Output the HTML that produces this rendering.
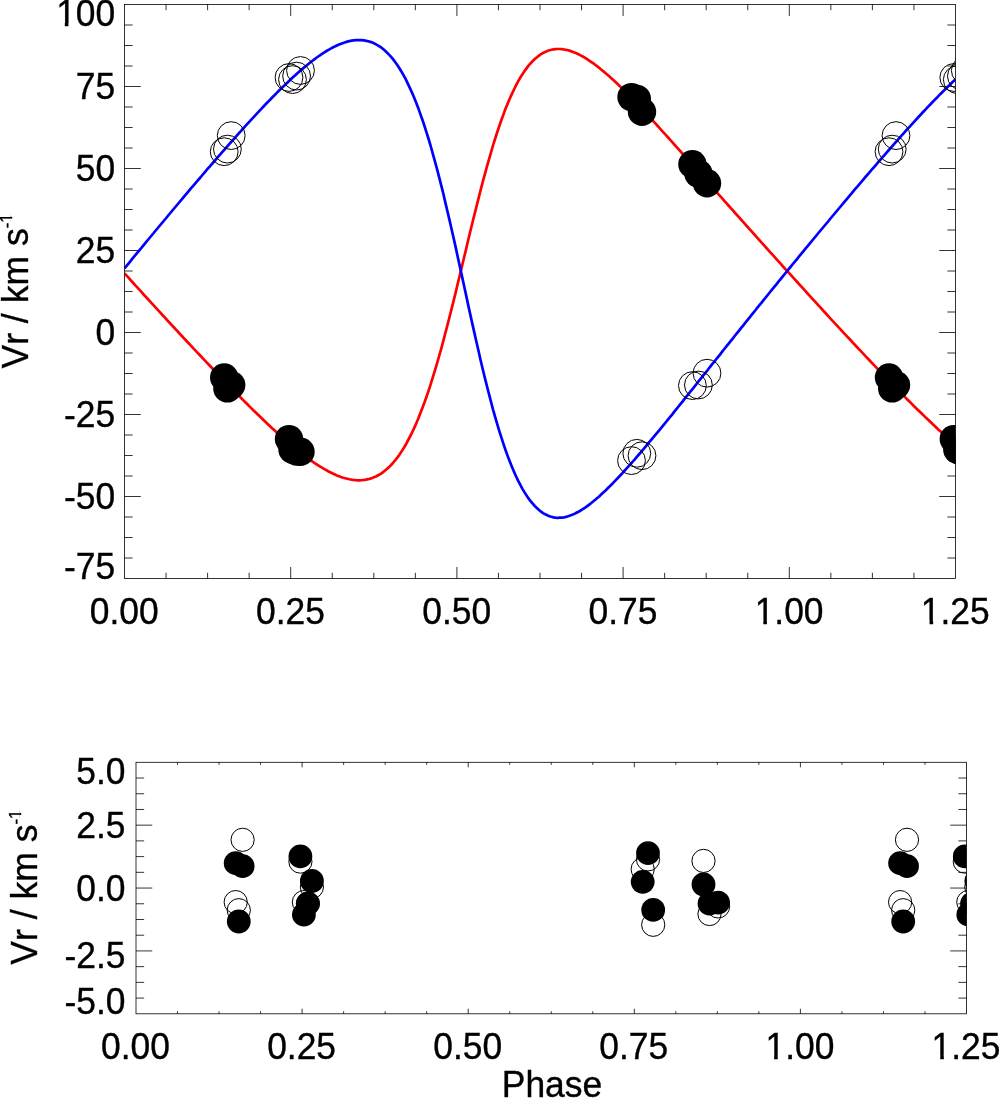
<!DOCTYPE html>
<html><head><meta charset="utf-8"><title>Vr vs Phase</title>
<style>html,body{margin:0;padding:0;background:#fff}svg{display:block}text{font-family:"Liberation Sans",Arial,Helvetica,sans-serif;font-size:35.4px;font-kerning:none;fill:#000;stroke:#000;stroke-width:0.35px}</style></head><body>
<svg width="1000" height="1098" viewBox="0 0 1000 1098">
<rect width="1000" height="1098" fill="#fff"/>
<defs><clipPath id="cu"><rect x="124.5" y="4.5" width="831.0" height="574.0"/></clipPath><clipPath id="cl"><rect x="136.0" y="762.3" width="830.5" height="251.5"/></clipPath></defs>
<path d="M166.05,578.5v-5.74M166.05,4.5v5.74M207.60,578.5v-5.74M207.60,4.5v5.74M249.15,578.5v-5.74M249.15,4.5v5.74M290.70,578.5v-11.48M290.70,4.5v11.48M332.25,578.5v-5.74M332.25,4.5v5.74M373.80,578.5v-5.74M373.80,4.5v5.74M415.35,578.5v-5.74M415.35,4.5v5.74M456.90,578.5v-11.48M456.90,4.5v11.48M498.45,578.5v-5.74M498.45,4.5v5.74M540.00,578.5v-5.74M540.00,4.5v5.74M581.55,578.5v-5.74M581.55,4.5v5.74M623.10,578.5v-11.48M623.10,4.5v11.48M664.65,578.5v-5.74M664.65,4.5v5.74M706.20,578.5v-5.74M706.20,4.5v5.74M747.75,578.5v-5.74M747.75,4.5v5.74M789.30,578.5v-11.48M789.30,4.5v11.48M830.85,578.5v-5.74M830.85,4.5v5.74M872.40,578.5v-5.74M872.40,4.5v5.74M913.95,578.5v-5.74M913.95,4.5v5.74M124.5,25.00h8.1438M955.5,25.00h-8.1438M124.5,45.50h8.1438M955.5,45.50h-8.1438M124.5,66.00h8.1438M955.5,66.00h-8.1438M124.5,86.50h16.2876M955.5,86.50h-16.2876M124.5,107.00h8.1438M955.5,107.00h-8.1438M124.5,127.50h8.1438M955.5,127.50h-8.1438M124.5,148.00h8.1438M955.5,148.00h-8.1438M124.5,168.50h16.2876M955.5,168.50h-16.2876M124.5,189.00h8.1438M955.5,189.00h-8.1438M124.5,209.50h8.1438M955.5,209.50h-8.1438M124.5,230.00h8.1438M955.5,230.00h-8.1438M124.5,250.50h16.2876M955.5,250.50h-16.2876M124.5,271.00h8.1438M955.5,271.00h-8.1438M124.5,291.50h8.1438M955.5,291.50h-8.1438M124.5,312.00h8.1438M955.5,312.00h-8.1438M124.5,332.50h16.2876M955.5,332.50h-16.2876M124.5,353.00h8.1438M955.5,353.00h-8.1438M124.5,373.50h8.1438M955.5,373.50h-8.1438M124.5,394.00h8.1438M955.5,394.00h-8.1438M124.5,414.50h16.2876M955.5,414.50h-16.2876M124.5,435.00h8.1438M955.5,435.00h-8.1438M124.5,455.50h8.1438M955.5,455.50h-8.1438M124.5,476.00h8.1438M955.5,476.00h-8.1438M124.5,496.50h16.2876M955.5,496.50h-16.2876M124.5,517.00h8.1438M955.5,517.00h-8.1438M124.5,537.50h8.1438M955.5,537.50h-8.1438M124.5,558.00h8.1438M955.5,558.00h-8.1438" stroke="#000" stroke-width="0.8" fill="none"/>
<g clip-path="url(#cu)">
<path d="M124.5,273.3 L126.6,275.6 L128.7,277.9 L130.7,280.2 L132.8,282.5 L134.9,284.8 L137.0,287.1 L139.1,289.4 L141.2,291.7 L143.2,294.0 L145.3,296.3 L147.4,298.5 L149.5,300.8 L151.6,303.1 L153.7,305.4 L155.7,307.7 L157.8,309.9 L159.9,312.2 L162.0,314.5 L164.1,316.7 L166.2,319.0 L168.2,321.3 L170.3,323.5 L172.4,325.8 L174.5,328.0 L176.6,330.3 L178.7,332.5 L180.7,334.8 L182.8,337.0 L184.9,339.3 L187.0,341.5 L189.1,343.7 L191.1,345.9 L193.2,348.2 L195.3,350.4 L197.4,352.6 L199.5,354.8 L201.6,357.0 L203.6,359.2 L205.7,361.4 L207.8,363.6 L209.9,365.8 L212.0,368.0 L214.1,370.2 L216.1,372.4 L218.2,374.5 L220.3,376.7 L222.4,378.9 L224.5,381.0 L226.6,383.2 L228.6,385.3 L230.7,387.5 L232.8,389.6 L234.9,391.7 L237.0,393.8 L239.0,395.9 L241.1,398.0 L243.2,400.1 L245.3,402.2 L247.4,404.3 L249.5,406.4 L251.5,408.4 L253.6,410.5 L255.7,412.5 L257.8,414.5 L259.9,416.5 L262.0,418.5 L264.0,420.5 L266.1,422.5 L268.2,424.5 L270.3,426.4 L272.4,428.4 L274.5,430.3 L276.5,432.2 L278.6,434.1 L280.7,435.9 L282.8,437.8 L284.9,439.6 L287.0,441.4 L289.0,443.2 L291.1,445.0 L293.2,446.7 L295.3,448.4 L297.4,450.1 L299.4,451.8 L301.5,453.4 L303.6,455.0 L305.7,456.6 L307.8,458.2 L309.9,459.7 L311.9,461.1 L314.0,462.6 L316.1,464.0 L318.2,465.3 L320.3,466.7 L322.4,467.9 L324.4,469.2 L326.5,470.3 L328.6,471.5 L330.7,472.5 L332.8,473.5 L334.9,474.5 L336.9,475.4 L339.0,476.2 L341.1,477.0 L343.2,477.7 L345.3,478.3 L347.3,478.8 L349.4,479.3 L351.5,479.7 L353.6,480.0 L355.7,480.2 L357.8,480.3 L359.8,480.3 L361.9,480.2 L364.0,480.0 L366.1,479.6 L368.2,479.2 L370.3,478.6 L372.3,477.9 L374.4,477.1 L376.5,476.2 L378.6,475.0 L380.7,473.8 L382.8,472.4 L384.8,470.8 L386.9,469.0 L389.0,467.1 L391.1,465.0 L393.2,462.7 L395.3,460.2 L397.3,457.6 L399.4,454.7 L401.5,451.6 L403.6,448.3 L405.7,444.8 L407.7,441.0 L409.8,437.0 L411.9,432.8 L414.0,428.4 L416.1,423.7 L418.2,418.8 L420.2,413.6 L422.3,408.2 L424.4,402.6 L426.5,396.7 L428.6,390.6 L430.7,384.2 L432.7,377.6 L434.8,370.8 L436.9,363.8 L439.0,356.5 L441.1,349.1 L443.2,341.4 L445.2,333.6 L447.3,325.6 L449.4,317.5 L451.5,309.2 L453.6,300.8 L455.7,292.4 L457.7,283.8 L459.8,275.2 L461.9,266.5 L464.0,257.8 L466.1,249.1 L468.1,240.5 L470.2,231.8 L472.3,223.3 L474.4,214.8 L476.5,206.4 L478.6,198.2 L480.6,190.1 L482.7,182.1 L484.8,174.3 L486.9,166.7 L489.0,159.3 L491.1,152.2 L493.1,145.2 L495.2,138.5 L497.3,132.0 L499.4,125.8 L501.5,119.8 L503.6,114.1 L505.6,108.6 L507.7,103.4 L509.8,98.5 L511.9,93.9 L514.0,89.5 L516.0,85.3 L518.1,81.4 L520.2,77.8 L522.3,74.4 L524.4,71.3 L526.5,68.4 L528.5,65.7 L530.6,63.3 L532.7,61.0 L534.8,59.0 L536.9,57.2 L539.0,55.6 L541.0,54.2 L543.1,53.0 L545.2,51.9 L547.3,51.0 L549.4,50.3 L551.5,49.8 L553.5,49.4 L555.6,49.1 L557.7,49.0 L559.8,49.0 L561.9,49.2 L564.0,49.5 L566.0,49.8 L568.1,50.3 L570.2,50.9 L572.3,51.7 L574.4,52.5 L576.4,53.3 L578.5,54.3 L580.6,55.4 L582.7,56.5 L584.8,57.7 L586.9,59.0 L588.9,60.4 L591.0,61.8 L593.1,63.2 L595.2,64.8 L597.3,66.4 L599.4,68.0 L601.4,69.7 L603.5,71.4 L605.6,73.2 L607.7,75.0 L609.8,76.8 L611.9,78.7 L613.9,80.6 L616.0,82.6 L618.1,84.6 L620.2,86.6 L622.3,88.6 L624.3,90.7 L626.4,92.8 L628.5,94.9 L630.6,97.0 L632.7,99.1 L634.8,101.3 L636.8,103.5 L638.9,105.7 L641.0,107.9 L643.1,110.1 L645.2,112.3 L647.3,114.6 L649.3,116.8 L651.4,119.1 L653.5,121.4 L655.6,123.7 L657.7,126.0 L659.8,128.3 L661.8,130.6 L663.9,132.9 L666.0,135.2 L668.1,137.5 L670.2,139.8 L672.3,142.2 L674.3,144.5 L676.4,146.8 L678.5,149.2 L680.6,151.5 L682.7,153.8 L684.7,156.2 L686.8,158.5 L688.9,160.9 L691.0,163.2 L693.1,165.6 L695.2,167.9 L697.2,170.3 L699.3,172.6 L701.4,175.0 L703.5,177.3 L705.6,179.7 L707.7,182.0 L709.7,184.4 L711.8,186.7 L713.9,189.1 L716.0,191.4 L718.1,193.8 L720.2,196.1 L722.2,198.4 L724.3,200.8 L726.4,203.1 L728.5,205.5 L730.6,207.8 L732.7,210.2 L734.7,212.5 L736.8,214.8 L738.9,217.2 L741.0,219.5 L743.1,221.9 L745.1,224.2 L747.2,226.5 L749.3,228.9 L751.4,231.2 L753.5,233.5 L755.6,235.8 L757.6,238.2 L759.7,240.5 L761.8,242.8 L763.9,245.1 L766.0,247.5 L768.1,249.8 L770.1,252.1 L772.2,254.4 L774.3,256.7 L776.4,259.1 L778.5,261.4 L780.6,263.7 L782.6,266.0 L784.7,268.3 L786.8,270.6 L788.9,272.9 L791.0,275.1 L793.0,277.4 L795.1,279.7 L797.2,282.0 L799.3,284.3 L801.4,286.6 L803.5,288.9 L805.5,291.2 L807.6,293.5 L809.7,295.8 L811.8,298.1 L813.9,300.4 L816.0,302.7 L818.0,304.9 L820.1,307.2 L822.2,309.5 L824.3,311.8 L826.4,314.0 L828.5,316.3 L830.5,318.6 L832.6,320.8 L834.7,323.1 L836.8,325.3 L838.9,327.6 L841.0,329.8 L843.0,332.1 L845.1,334.3 L847.2,336.6 L849.3,338.8 L851.4,341.0 L853.4,343.3 L855.5,345.5 L857.6,347.7 L859.7,349.9 L861.8,352.2 L863.9,354.4 L865.9,356.6 L868.0,358.8 L870.1,361.0 L872.2,363.2 L874.3,365.4 L876.4,367.6 L878.4,369.8 L880.5,371.9 L882.6,374.1 L884.7,376.3 L886.8,378.4 L888.9,380.6 L890.9,382.7 L893.0,384.9 L895.1,387.0 L897.2,389.2 L899.3,391.3 L901.3,393.4 L903.4,395.5 L905.5,397.6 L907.6,399.7 L909.7,401.8 L911.8,403.9 L913.8,406.0 L915.9,408.0 L918.0,410.1 L920.1,412.1 L922.2,414.1 L924.3,416.1 L926.3,418.1 L928.4,420.1 L930.5,422.1 L932.6,424.1 L934.7,426.0 L936.8,428.0 L938.8,429.9 L940.9,431.8 L943.0,433.7 L945.1,435.6 L947.2,437.4 L949.3,439.3 L951.3,441.1 L953.4,442.9 L955.5,444.6" fill="none" stroke="#f00" stroke-width="2.7"/>
<path d="M124.5,268.4 L126.6,265.9 L128.7,263.3 L130.7,260.8 L132.8,258.2 L134.9,255.7 L137.0,253.2 L139.1,250.6 L141.2,248.1 L143.2,245.6 L145.3,243.1 L147.4,240.5 L149.5,238.0 L151.6,235.5 L153.7,233.0 L155.7,230.5 L157.8,228.0 L159.9,225.5 L162.0,223.0 L164.1,220.5 L166.2,218.0 L168.2,215.5 L170.3,213.0 L172.4,210.5 L174.5,208.0 L176.6,205.5 L178.7,203.0 L180.7,200.6 L182.8,198.1 L184.9,195.6 L187.0,193.2 L189.1,190.7 L191.1,188.2 L193.2,185.8 L195.3,183.3 L197.4,180.9 L199.5,178.5 L201.6,176.0 L203.6,173.6 L205.7,171.2 L207.8,168.7 L209.9,166.3 L212.0,163.9 L214.1,161.5 L216.1,159.1 L218.2,156.7 L220.3,154.3 L222.4,151.9 L224.5,149.6 L226.6,147.2 L228.6,144.8 L230.7,142.5 L232.8,140.1 L234.9,137.8 L237.0,135.4 L239.0,133.1 L241.1,130.8 L243.2,128.5 L245.3,126.2 L247.4,123.9 L249.5,121.6 L251.5,119.3 L253.6,117.1 L255.7,114.8 L257.8,112.6 L259.9,110.4 L262.0,108.2 L264.0,106.0 L266.1,103.8 L268.2,101.6 L270.3,99.5 L272.4,97.3 L274.5,95.2 L276.5,93.1 L278.6,91.0 L280.7,89.0 L282.8,86.9 L284.9,84.9 L287.0,82.9 L289.0,81.0 L291.1,79.0 L293.2,77.1 L295.3,75.2 L297.4,73.3 L299.4,71.5 L301.5,69.7 L303.6,67.9 L305.7,66.2 L307.8,64.5 L309.9,62.8 L311.9,61.2 L314.0,59.6 L316.1,58.0 L318.2,56.5 L320.3,55.1 L322.4,53.7 L324.4,52.3 L326.5,51.0 L328.6,49.8 L330.7,48.6 L332.8,47.5 L334.9,46.4 L336.9,45.5 L339.0,44.5 L341.1,43.7 L343.2,42.9 L345.3,42.2 L347.3,41.6 L349.4,41.1 L351.5,40.7 L353.6,40.4 L355.7,40.2 L357.8,40.1 L359.8,40.1 L361.9,40.2 L364.0,40.4 L366.1,40.8 L368.2,41.2 L370.3,41.9 L372.3,42.6 L374.4,43.5 L376.5,44.6 L378.6,45.8 L380.7,47.2 L382.8,48.8 L384.8,50.5 L386.9,52.5 L389.0,54.6 L391.1,56.9 L393.2,59.4 L395.3,62.2 L397.3,65.1 L399.4,68.3 L401.5,71.7 L403.6,75.4 L405.7,79.2 L407.7,83.4 L409.8,87.8 L411.9,92.4 L414.0,97.3 L416.1,102.5 L418.2,107.9 L420.2,113.6 L422.3,119.5 L424.4,125.8 L426.5,132.3 L428.6,139.0 L430.7,146.0 L432.7,153.3 L434.8,160.8 L436.9,168.6 L439.0,176.6 L441.1,184.8 L443.2,193.2 L445.2,201.9 L447.3,210.7 L449.4,219.6 L451.5,228.8 L453.6,238.0 L455.7,247.4 L457.7,256.8 L459.8,266.3 L461.9,275.9 L464.0,285.5 L466.1,295.1 L468.1,304.6 L470.2,314.1 L472.3,323.6 L474.4,332.9 L476.5,342.2 L478.6,351.3 L480.6,360.2 L482.7,369.0 L484.8,377.6 L486.9,386.0 L489.0,394.2 L491.1,402.1 L493.1,409.8 L495.2,417.2 L497.3,424.4 L499.4,431.3 L501.5,437.9 L503.6,444.3 L505.6,450.3 L507.7,456.1 L509.8,461.6 L511.9,466.8 L514.0,471.7 L516.0,476.3 L518.1,480.7 L520.2,484.7 L522.3,488.6 L524.4,492.1 L526.5,495.4 L528.5,498.4 L530.6,501.2 L532.7,503.7 L534.8,506.0 L536.9,508.1 L539.0,510.0 L541.0,511.6 L543.1,513.1 L545.2,514.3 L547.3,515.3 L549.4,516.2 L551.5,516.8 L553.5,517.3 L555.6,517.6 L557.7,517.8 L559.8,517.7 L561.9,517.6 L564.0,517.3 L566.0,516.9 L568.1,516.3 L570.2,515.6 L572.3,514.8 L574.4,513.9 L576.4,512.8 L578.5,511.7 L580.6,510.5 L582.7,509.2 L584.8,507.8 L586.9,506.3 L588.9,504.8 L591.0,503.2 L593.1,501.5 L595.2,499.8 L597.3,498.0 L599.4,496.2 L601.4,494.3 L603.5,492.3 L605.6,490.4 L607.7,488.3 L609.8,486.3 L611.9,484.2 L613.9,482.1 L616.0,479.9 L618.1,477.7 L620.2,475.5 L622.3,473.3 L624.3,471.0 L626.4,468.7 L628.5,466.4 L630.6,464.1 L632.7,461.7 L634.8,459.3 L636.8,456.9 L638.9,454.5 L641.0,452.1 L643.1,449.7 L645.2,447.2 L647.3,444.7 L649.3,442.2 L651.4,439.7 L653.5,437.2 L655.6,434.7 L657.7,432.2 L659.8,429.7 L661.8,427.1 L663.9,424.6 L666.0,422.0 L668.1,419.4 L670.2,416.9 L672.3,414.3 L674.3,411.7 L676.4,409.1 L678.5,406.5 L680.6,403.9 L682.7,401.3 L684.7,398.7 L686.8,396.1 L688.9,393.5 L691.0,390.9 L693.1,388.3 L695.2,385.7 L697.2,383.0 L699.3,380.4 L701.4,377.8 L703.5,375.2 L705.6,372.6 L707.7,370.0 L709.7,367.3 L711.8,364.7 L713.9,362.1 L716.0,359.5 L718.1,356.9 L720.2,354.3 L722.2,351.6 L724.3,349.0 L726.4,346.4 L728.5,343.8 L730.6,341.2 L732.7,338.6 L734.7,336.0 L736.8,333.4 L738.9,330.8 L741.0,328.2 L743.1,325.6 L745.1,323.0 L747.2,320.4 L749.3,317.8 L751.4,315.2 L753.5,312.6 L755.6,310.0 L757.6,307.4 L759.7,304.9 L761.8,302.3 L763.9,299.7 L766.0,297.1 L768.1,294.5 L770.1,292.0 L772.2,289.4 L774.3,286.8 L776.4,284.3 L778.5,281.7 L780.6,279.1 L782.6,276.6 L784.7,274.0 L786.8,271.5 L788.9,268.9 L791.0,266.4 L793.0,263.8 L795.1,261.3 L797.2,258.8 L799.3,256.2 L801.4,253.7 L803.5,251.1 L805.5,248.6 L807.6,246.1 L809.7,243.6 L811.8,241.0 L813.9,238.5 L816.0,236.0 L818.0,233.5 L820.1,231.0 L822.2,228.5 L824.3,226.0 L826.4,223.5 L828.5,221.0 L830.5,218.5 L832.6,216.0 L834.7,213.5 L836.8,211.0 L838.9,208.5 L841.0,206.0 L843.0,203.5 L845.1,201.1 L847.2,198.6 L849.3,196.1 L851.4,193.7 L853.4,191.2 L855.5,188.7 L857.6,186.3 L859.7,183.8 L861.8,181.4 L863.9,178.9 L865.9,176.5 L868.0,174.1 L870.1,171.7 L872.2,169.2 L874.3,166.8 L876.4,164.4 L878.4,162.0 L880.5,159.6 L882.6,157.2 L884.7,154.8 L886.8,152.4 L888.9,150.0 L890.9,147.7 L893.0,145.3 L895.1,142.9 L897.2,140.6 L899.3,138.2 L901.3,135.9 L903.4,133.6 L905.5,131.2 L907.6,128.9 L909.7,126.6 L911.8,124.3 L913.8,122.1 L915.9,119.8 L918.0,117.5 L920.1,115.3 L922.2,113.0 L924.3,110.8 L926.3,108.6 L928.4,106.4 L930.5,104.2 L932.6,102.0 L934.7,99.9 L936.8,97.8 L938.8,95.6 L940.9,93.5 L943.0,91.5 L945.1,89.4 L947.2,87.3 L949.3,85.3 L951.3,83.3 L953.4,81.3 L955.5,79.4" fill="none" stroke="#00f" stroke-width="2.7"/>
<circle cx="224.2" cy="151.7" r="13.9" fill="none" stroke="#000" stroke-width="1.0"/>
<circle cx="227.4" cy="149.1" r="13.9" fill="none" stroke="#000" stroke-width="1.0"/>
<circle cx="231.2" cy="135.6" r="13.9" fill="none" stroke="#000" stroke-width="1.0"/>
<circle cx="289.0" cy="77.5" r="13.9" fill="none" stroke="#000" stroke-width="1.0"/>
<circle cx="292.5" cy="79.6" r="13.9" fill="none" stroke="#000" stroke-width="1.0"/>
<circle cx="296.6" cy="76.1" r="13.9" fill="none" stroke="#000" stroke-width="1.0"/>
<circle cx="300.5" cy="70.5" r="13.9" fill="none" stroke="#000" stroke-width="1.0"/>
<circle cx="631.5" cy="460.6" r="13.9" fill="none" stroke="#000" stroke-width="1.0"/>
<circle cx="636.8" cy="453.3" r="13.9" fill="none" stroke="#000" stroke-width="1.0"/>
<circle cx="642.0" cy="455.7" r="13.9" fill="none" stroke="#000" stroke-width="1.0"/>
<circle cx="692.4" cy="385.6" r="13.9" fill="none" stroke="#000" stroke-width="1.0"/>
<circle cx="698.4" cy="385.0" r="13.9" fill="none" stroke="#000" stroke-width="1.0"/>
<circle cx="707.0" cy="373.2" r="13.9" fill="none" stroke="#000" stroke-width="1.0"/>
<circle cx="889.0" cy="151.7" r="13.9" fill="none" stroke="#000" stroke-width="1.0"/>
<circle cx="892.2" cy="149.1" r="13.9" fill="none" stroke="#000" stroke-width="1.0"/>
<circle cx="896.0" cy="135.6" r="13.9" fill="none" stroke="#000" stroke-width="1.0"/>
<circle cx="953.8" cy="77.5" r="13.9" fill="none" stroke="#000" stroke-width="1.0"/>
<circle cx="957.3" cy="79.6" r="13.9" fill="none" stroke="#000" stroke-width="1.0"/>
<circle cx="961.4" cy="76.1" r="13.9" fill="none" stroke="#000" stroke-width="1.0"/>
<circle cx="965.3" cy="70.5" r="13.9" fill="none" stroke="#000" stroke-width="1.0"/>
<circle cx="1296.3" cy="460.6" r="13.9" fill="none" stroke="#000" stroke-width="1.0"/>
<circle cx="1301.6" cy="453.3" r="13.9" fill="none" stroke="#000" stroke-width="1.0"/>
<circle cx="1306.8" cy="455.7" r="13.9" fill="none" stroke="#000" stroke-width="1.0"/>
<circle cx="1357.2" cy="385.6" r="13.9" fill="none" stroke="#000" stroke-width="1.0"/>
<circle cx="1363.2" cy="385.0" r="13.9" fill="none" stroke="#000" stroke-width="1.0"/>
<circle cx="1371.8" cy="373.2" r="13.9" fill="none" stroke="#000" stroke-width="1.0"/>
<circle cx="224.2" cy="377.5" r="14.200000000000001" fill="#000"/>
<circle cx="227.4" cy="388.4" r="14.200000000000001" fill="#000"/>
<circle cx="231.2" cy="385.1" r="14.200000000000001" fill="#000"/>
<circle cx="289.0" cy="439.1" r="14.200000000000001" fill="#000"/>
<circle cx="292.5" cy="449.6" r="14.200000000000001" fill="#000"/>
<circle cx="296.6" cy="451.5" r="14.200000000000001" fill="#000"/>
<circle cx="300.5" cy="451.7" r="14.200000000000001" fill="#000"/>
<circle cx="631.5" cy="97.1" r="14.200000000000001" fill="#000"/>
<circle cx="636.8" cy="98.9" r="14.200000000000001" fill="#000"/>
<circle cx="642.0" cy="111.8" r="14.200000000000001" fill="#000"/>
<circle cx="692.4" cy="164.3" r="14.200000000000001" fill="#000"/>
<circle cx="698.4" cy="173.6" r="14.200000000000001" fill="#000"/>
<circle cx="707.0" cy="183.2" r="14.200000000000001" fill="#000"/>
<circle cx="889.0" cy="377.5" r="14.200000000000001" fill="#000"/>
<circle cx="892.2" cy="388.4" r="14.200000000000001" fill="#000"/>
<circle cx="896.0" cy="385.1" r="14.200000000000001" fill="#000"/>
<circle cx="953.8" cy="439.1" r="14.200000000000001" fill="#000"/>
<circle cx="957.3" cy="449.6" r="14.200000000000001" fill="#000"/>
<circle cx="961.4" cy="451.5" r="14.200000000000001" fill="#000"/>
<circle cx="965.3" cy="451.7" r="14.200000000000001" fill="#000"/>
<circle cx="1296.3" cy="97.1" r="14.200000000000001" fill="#000"/>
<circle cx="1301.6" cy="98.9" r="14.200000000000001" fill="#000"/>
<circle cx="1306.8" cy="111.8" r="14.200000000000001" fill="#000"/>
<circle cx="1357.2" cy="164.3" r="14.200000000000001" fill="#000"/>
<circle cx="1363.2" cy="173.6" r="14.200000000000001" fill="#000"/>
<circle cx="1371.8" cy="183.2" r="14.200000000000001" fill="#000"/>
</g>
<rect x="124.5" y="4.5" width="831.0" height="574.0" fill="none" stroke="#000" stroke-width="0.8"/>
<g transform="translate(56.14,26.40)"><text transform="scale(1,1.04)">100</text><rect x="1.10" y="-3.48" width="7.56" height="5.68" fill="#fff"/><rect x="12.28" y="-3.48" width="7.28" height="5.68" fill="#fff"/></g>
<g transform="translate(75.82,98.80)"><text transform="scale(1,1.04)">75</text></g>
<g transform="translate(75.82,181.30)"><text transform="scale(1,1.04)">50</text></g>
<g transform="translate(75.82,263.00)"><text transform="scale(1,1.04)">25</text></g>
<g transform="translate(95.51,345.30)"><text transform="scale(1,1.04)">0</text></g>
<g transform="translate(64.04,427.00)"><text transform="scale(1,1.04)">-25</text></g>
<g transform="translate(64.04,509.00)"><text transform="scale(1,1.04)">-50</text></g>
<g transform="translate(64.04,578.80)"><text transform="scale(1,1.04)">-75</text></g>
<g transform="translate(89.85,623.80)"><text transform="scale(1,1.04)">0.00</text></g>
<g transform="translate(256.05,623.80)"><text transform="scale(1,1.04)">0.25</text></g>
<g transform="translate(422.25,623.80)"><text transform="scale(1,1.04)">0.50</text></g>
<g transform="translate(588.45,623.80)"><text transform="scale(1,1.04)">0.75</text></g>
<g transform="translate(754.65,623.80)"><text transform="scale(1,1.04)">1.00</text><rect x="1.10" y="-3.48" width="7.56" height="5.68" fill="#fff"/><rect x="12.28" y="-3.48" width="7.28" height="5.68" fill="#fff"/></g>
<g transform="translate(920.85,623.80)"><text transform="scale(1,1.04)">1.25</text><rect x="1.10" y="-3.48" width="7.56" height="5.68" fill="#fff"/><rect x="12.28" y="-3.48" width="7.28" height="5.68" fill="#fff"/></g>
<g transform="translate(28.0,368.6) rotate(-90) scale(1,1.04)"><text style="font-size:35.6px">Vr / km s<tspan style="font-size:16.6px" dy="-15.19">-1</tspan></text><rect x="145.61" y="-17.13" width="4.26" height="4.14" fill="#fff"/><rect x="151.84" y="-17.13" width="4.13" height="4.14" fill="#fff"/></g>
<path d="M177.53,1013.8v-2.52M177.53,762.3v2.52M219.05,1013.8v-2.52M219.05,762.3v2.52M260.57,1013.8v-2.52M260.57,762.3v2.52M302.10,1013.8v-5.03M302.10,762.3v5.03M343.62,1013.8v-2.52M343.62,762.3v2.52M385.15,1013.8v-2.52M385.15,762.3v2.52M426.68,1013.8v-2.52M426.68,762.3v2.52M468.20,1013.8v-5.03M468.20,762.3v5.03M509.73,1013.8v-2.52M509.73,762.3v2.52M551.25,1013.8v-2.52M551.25,762.3v2.52M592.77,1013.8v-2.52M592.77,762.3v2.52M634.30,1013.8v-5.03M634.30,762.3v5.03M675.83,1013.8v-2.52M675.83,762.3v2.52M717.35,1013.8v-2.52M717.35,762.3v2.52M758.88,1013.8v-2.52M758.88,762.3v2.52M800.40,1013.8v-5.03M800.40,762.3v5.03M841.92,1013.8v-2.52M841.92,762.3v2.52M883.45,1013.8v-2.52M883.45,762.3v2.52M924.98,1013.8v-2.52M924.98,762.3v2.52M136.0,778.02h8.1389M966.5,778.02h-8.1389M136.0,793.74h8.1389M966.5,793.74h-8.1389M136.0,809.46h8.1389M966.5,809.46h-8.1389M136.0,825.17h16.2778M966.5,825.17h-16.2778M136.0,840.89h8.1389M966.5,840.89h-8.1389M136.0,856.61h8.1389M966.5,856.61h-8.1389M136.0,872.33h8.1389M966.5,872.33h-8.1389M136.0,888.05h16.2778M966.5,888.05h-16.2778M136.0,903.77h8.1389M966.5,903.77h-8.1389M136.0,919.49h8.1389M966.5,919.49h-8.1389M136.0,935.21h8.1389M966.5,935.21h-8.1389M136.0,950.92h16.2778M966.5,950.92h-16.2778M136.0,966.64h8.1389M966.5,966.64h-8.1389M136.0,982.36h8.1389M966.5,982.36h-8.1389M136.0,998.08h8.1389M966.5,998.08h-8.1389" stroke="#000" stroke-width="0.8" fill="none"/>
<g clip-path="url(#cl)">
<circle cx="235.7" cy="902.1" r="11.6" fill="none" stroke="#000" stroke-width="1"/>
<circle cx="238.8" cy="910.2" r="11.6" fill="none" stroke="#000" stroke-width="1"/>
<circle cx="242.6" cy="839.8" r="11.6" fill="none" stroke="#000" stroke-width="1"/>
<circle cx="300.4" cy="861.6" r="11.6" fill="none" stroke="#000" stroke-width="1"/>
<circle cx="303.9" cy="902.1" r="11.6" fill="none" stroke="#000" stroke-width="1"/>
<circle cx="307.9" cy="903.6" r="11.6" fill="none" stroke="#000" stroke-width="1"/>
<circle cx="311.9" cy="887.0" r="11.6" fill="none" stroke="#000" stroke-width="1"/>
<circle cx="642.7" cy="869.2" r="11.6" fill="none" stroke="#000" stroke-width="1"/>
<circle cx="648.0" cy="859.4" r="11.6" fill="none" stroke="#000" stroke-width="1"/>
<circle cx="653.2" cy="924.8" r="11.6" fill="none" stroke="#000" stroke-width="1"/>
<circle cx="703.5" cy="860.9" r="11.6" fill="none" stroke="#000" stroke-width="1"/>
<circle cx="709.5" cy="914.0" r="11.6" fill="none" stroke="#000" stroke-width="1"/>
<circle cx="718.1" cy="906.4" r="11.6" fill="none" stroke="#000" stroke-width="1"/>
<circle cx="900.1" cy="902.1" r="11.6" fill="none" stroke="#000" stroke-width="1"/>
<circle cx="903.2" cy="910.2" r="11.6" fill="none" stroke="#000" stroke-width="1"/>
<circle cx="907.0" cy="839.8" r="11.6" fill="none" stroke="#000" stroke-width="1"/>
<circle cx="964.8" cy="861.6" r="11.6" fill="none" stroke="#000" stroke-width="1"/>
<circle cx="968.3" cy="902.1" r="11.6" fill="none" stroke="#000" stroke-width="1"/>
<circle cx="972.3" cy="903.6" r="11.6" fill="none" stroke="#000" stroke-width="1"/>
<circle cx="976.3" cy="887.0" r="11.6" fill="none" stroke="#000" stroke-width="1"/>
<circle cx="1307.1" cy="869.2" r="11.6" fill="none" stroke="#000" stroke-width="1"/>
<circle cx="1312.4" cy="859.4" r="11.6" fill="none" stroke="#000" stroke-width="1"/>
<circle cx="1317.6" cy="924.8" r="11.6" fill="none" stroke="#000" stroke-width="1"/>
<circle cx="1367.9" cy="860.9" r="11.6" fill="none" stroke="#000" stroke-width="1"/>
<circle cx="1373.9" cy="914.0" r="11.6" fill="none" stroke="#000" stroke-width="1"/>
<circle cx="1382.5" cy="906.4" r="11.6" fill="none" stroke="#000" stroke-width="1"/>
<circle cx="235.7" cy="863.2" r="11.9" fill="#000"/>
<circle cx="238.8" cy="921.5" r="11.9" fill="#000"/>
<circle cx="242.6" cy="866.2" r="11.9" fill="#000"/>
<circle cx="300.4" cy="856.4" r="11.9" fill="#000"/>
<circle cx="303.9" cy="914.7" r="11.9" fill="#000"/>
<circle cx="307.9" cy="903.6" r="11.9" fill="#000"/>
<circle cx="311.9" cy="881.0" r="11.9" fill="#000"/>
<circle cx="642.7" cy="881.8" r="11.9" fill="#000"/>
<circle cx="648.0" cy="853.1" r="11.9" fill="#000"/>
<circle cx="653.2" cy="909.9" r="11.9" fill="#000"/>
<circle cx="703.5" cy="884.5" r="11.9" fill="#000"/>
<circle cx="709.5" cy="903.6" r="11.9" fill="#000"/>
<circle cx="718.1" cy="902.6" r="11.9" fill="#000"/>
<circle cx="900.1" cy="863.2" r="11.9" fill="#000"/>
<circle cx="903.2" cy="921.5" r="11.9" fill="#000"/>
<circle cx="907.0" cy="866.2" r="11.9" fill="#000"/>
<circle cx="964.8" cy="856.4" r="11.9" fill="#000"/>
<circle cx="968.3" cy="914.7" r="11.9" fill="#000"/>
<circle cx="972.3" cy="903.6" r="11.9" fill="#000"/>
<circle cx="976.3" cy="881.0" r="11.9" fill="#000"/>
<circle cx="1307.1" cy="881.8" r="11.9" fill="#000"/>
<circle cx="1312.4" cy="853.1" r="11.9" fill="#000"/>
<circle cx="1317.6" cy="909.9" r="11.9" fill="#000"/>
<circle cx="1367.9" cy="884.5" r="11.9" fill="#000"/>
<circle cx="1373.9" cy="903.6" r="11.9" fill="#000"/>
<circle cx="1382.5" cy="902.6" r="11.9" fill="#000"/>
</g>
<rect x="136.0" y="762.3" width="830.5" height="251.5" fill="none" stroke="#000" stroke-width="0.8"/>
<g transform="translate(76.29,783.50)"><text transform="scale(1,1.04)">5.0</text></g>
<g transform="translate(76.29,837.80)"><text transform="scale(1,1.04)">2.5</text></g>
<g transform="translate(76.29,901.30)"><text transform="scale(1,1.04)">0.0</text></g>
<g transform="translate(64.50,967.50)"><text transform="scale(1,1.04)">-2.5</text></g>
<g transform="translate(64.50,1014.00)"><text transform="scale(1,1.04)">-5.0</text></g>
<g transform="translate(101.05,1059.00)"><text transform="scale(1,1.04)">0.00</text></g>
<g transform="translate(267.15,1059.00)"><text transform="scale(1,1.04)">0.25</text></g>
<g transform="translate(433.25,1059.00)"><text transform="scale(1,1.04)">0.50</text></g>
<g transform="translate(599.35,1059.00)"><text transform="scale(1,1.04)">0.75</text></g>
<g transform="translate(765.45,1059.00)"><text transform="scale(1,1.04)">1.00</text><rect x="1.10" y="-3.48" width="7.56" height="5.68" fill="#fff"/><rect x="12.28" y="-3.48" width="7.28" height="5.68" fill="#fff"/></g>
<g transform="translate(931.55,1059.00)"><text transform="scale(1,1.04)">1.25</text><rect x="1.10" y="-3.48" width="7.56" height="5.68" fill="#fff"/><rect x="12.28" y="-3.48" width="7.28" height="5.68" fill="#fff"/></g>
<text transform="translate(552,1097.4) scale(1,1.04)" text-anchor="middle">Phase</text>
<g transform="translate(36.9,964.8) rotate(-90) scale(1,1.04)"><text style="font-size:35.6px">Vr / km s<tspan style="font-size:16.6px" dy="-15.00">-1</tspan></text><rect x="145.61" y="-16.94" width="4.26" height="4.14" fill="#fff"/><rect x="151.84" y="-16.94" width="4.13" height="4.14" fill="#fff"/></g>
</svg></body></html>
